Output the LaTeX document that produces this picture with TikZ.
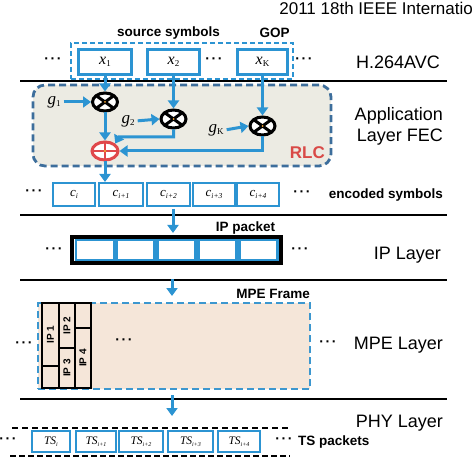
\documentclass[tikz,border=0pt]{standalone}
\usepackage{fontspec}
\setmainfont{Liberation Sans}
\newfontfamily\serf{Liberation Serif}
\usetikzlibrary{arrows.meta,shapes.geometric}
\definecolor{bl}{HTML}{2C94D2}
\definecolor{fecb}{HTML}{3D6E9C}
\definecolor{fecf}{HTML}{ECEBE3}
\definecolor{mpef}{HTML}{F5E6D9}
\definecolor{mpeb}{HTML}{3C97CF}
\definecolor{rd}{HTML}{E0484B}
\definecolor{rlc}{HTML}{D94A47}
\definecolor{dotor}{HTML}{F0A030}
\newcommand\sym[4]{{\serf\fontsize{#3}{#3}\selectfont\itshape #1\raisebox{-0.35ex}{\fontsize{#4}{#4}\selectfont #2}}}
\newcommand\dts{·\kern1.6pt·\kern1.6pt·}
\begin{document}
\begin{tikzpicture}[x=1pt,y=-1pt,
  sbox/.style={draw=bl, line width=2.8pt, fill=white, inner sep=0pt},
  arr/.style={draw=bl, line width=3pt, -{Triangle[length=8pt,width=11pt]}},
  big/.style={font=\fontsize{18}{21}\selectfont, inner sep=0pt},
  lab/.style={font=\bfseries\fontsize{13.5}{15}\selectfont, inner sep=0pt},
  dotsn/.style={font=\bfseries\fontsize{14}{14}\selectfont, inner sep=0pt},
  layer/.style={black, line width=2.2pt},
  ipf/.style={draw=black, line width=2pt, inner sep=0pt, font=\bfseries\fontsize{10}{10}\selectfont},
  mult/.style={ellipse, draw=black, line width=3pt, fill=white, minimum width=25pt, minimum height=18pt, inner sep=0pt,
    path picture={\draw[black,line width=3pt] (path picture bounding box.north west) -- (path picture bounding box.south east) (path picture bounding box.north east) -- (path picture bounding box.south west);
      \fill[dotor] (path picture bounding box.center) circle (1pt);}},
  adder/.style={ellipse, draw=rd, line width=3pt, fill=white, minimum width=26pt, minimum height=18pt, inner sep=0pt,
    path picture={\draw[rd,line width=2.2pt] (path picture bounding box.north) -- (path picture bounding box.south) (path picture bounding box.west) -- (path picture bounding box.east);
      \fill[dotor] (path picture bounding box.center) circle (1.3pt);}}
]
\useasboundingbox (0,0) rectangle (474,457);
\node[font=\fontsize{17}{17}\selectfont, inner sep=0pt, anchor=base east] (hdr) at (473,15) {2011 18th IEEE Internatio};

% ---------- H.264AVC ----------
\node[lab] (srcl) at (168.5,33) {source symbols};
\node[lab] (gopl) at (274.5,33) {GOP};
\node[draw=bl, line width=1.6pt, dash pattern=on 5pt off 3pt, minimum width=222pt, minimum height=36pt, inner sep=0pt] (gop) at (182,61) {};
\node[sbox, minimum width=53pt, minimum height=25pt] (x1) at (105,62) {\sym{x}{\upshape 1}{16}{9}};
\node[sbox, minimum width=52pt, minimum height=25pt] (x2) at (173.5,62) {\sym{x}{\upshape 2}{16}{9}};
\node[sbox, minimum width=50pt, minimum height=25pt] (xK) at (262.5,62) {\sym{x}{\upshape K}{16}{9}};
\node[dotsn] (d1) at (53,61) {\dts};
\node[dotsn] (d2) at (214,61) {\dts};
\node[dotsn] (d3) at (304,61) {\dts};
\node[big, anchor=east] (h264) at (440,62) {H.264AVC};
\draw[layer] (20,81) -- (447,81);

% ---------- Application layer FEC ----------
\node[draw=fecb, fill=fecf, line width=2.8pt, dash pattern=on 7pt off 4pt, rounded corners=12pt, minimum width=298pt, minimum height=81pt, inner sep=0pt] (fec) at (182,125.5) {};
\node[big, anchor=east, align=right] (fecl) at (443,126.5) {Application\\Layer FEC};
\node[font=\bfseries\fontsize{17}{17}\selectfont, text=rlc, inner sep=0pt, anchor=east] (rlcl) at (325,153) {RLC};
\node[mult] (m1) at (105,102) {};
\node[mult] (m2) at (173.5,119) {};
\node[mult] (mK) at (262.5,126) {};
\node[adder] (add) at (105,151) {};
\node[inner sep=1pt] (g1) at (54,102) {\sym{g}{\upshape 1}{17}{9}};
\node[inner sep=1pt] (g2) at (128,121) {\sym{g}{\upshape 2}{17}{9}};
\node[inner sep=1pt] (gK) at (216,130) {\sym{g}{\upshape K}{17}{9}};
\draw[arr] (x1.south) -- (m1.north);
\draw[arr] (x2.south) -- (m2.north);
\draw[arr] (xK.south) -- (mK.north);
\draw[arr, shorten <=2pt] (g1.east) -- (m1.west);
\draw[arr, shorten <=2pt] (g2.east) -- (m2.west);
\draw[arr, shorten <=2pt] (gK.east) -- (mK.west);
\draw[arr] (m1.south) -- (add.north);
\coordinate (c2) at (119,137);
\draw[arr] (m2.south) |- (c2) -- (add.north east);
\draw[arr] (mK.south) |- (add.east);
\coordinate (encin) at (105,182);
\draw[arr] (add.south) -- (encin);

% ---------- encoded symbols ----------
\node[sbox, line width=2.4pt, minimum width=42pt, minimum height=23pt] (c1) at (74,194.5) {\sym{c}{i}{13}{7.5}};
\node[sbox, line width=2.4pt, minimum width=44pt, minimum height=23pt] (c2b) at (121,194.5) {\sym{c}{i+1}{13}{7.5}};
\node[sbox, line width=2.4pt, minimum width=43pt, minimum height=23pt] (c3) at (168.5,194.5) {\sym{c}{i+2}{13}{7.5}};
\node[sbox, line width=2.4pt, minimum width=42pt, minimum height=23pt] (c4) at (214,194.5) {\sym{c}{i+3}{13}{7.5}};
\node[sbox, line width=2.4pt, minimum width=42pt, minimum height=23pt] (c5) at (258,194.5) {\sym{c}{i+4}{13}{7.5}};
\node[dotsn] (d4) at (34,193) {\dts};
\node[dotsn] (d5) at (302,194) {\dts};
\node[lab, anchor=east] (encl) at (443,195) {encoded symbols};
\draw[layer] (20,215) -- (447,215);

% ---------- IP layer ----------
\coordinate (a2s) at (173,209);
\coordinate (a2e) at (173,233);
\draw[arr] (a2s) -- (a2e);
\node[lab] (ipl) at (245.5,228) {IP packet};
\node[draw=black, line width=3.2pt, minimum width=209pt, minimum height=26pt, inner sep=0pt] (ip) at (176.5,250) {};
\foreach \i in {0,...,4}{
  \node[sbox, minimum width=38pt, minimum height=20pt] (ipc\i) at ({94.9+40.8*\i},250) {};
}
\node[dotsn] (d6) at (54,251) {\dts};
\node[dotsn] (d7) at (300,251) {\dts};
\node[big, anchor=east] (ipll) at (441,255) {IP Layer};
\draw[layer] (20,280) -- (447,280);

% ---------- MPE layer ----------
\coordinate (a3s) at (172,279);
\coordinate (a3e) at (172,296);
\draw[arr] (a3s) -- (a3e);
\node[lab, anchor=east] (mpel) at (310,294) {MPE Frame};
\node[draw=mpeb, fill=mpef, line width=2.2pt, dash pattern=on 7pt off 4pt, minimum width=272pt, minimum height=86pt, inner sep=0pt] (mpe) at (174,346) {};
\node[ipf, rotate=90, minimum width=63pt, minimum height=17pt] (ip1) at (50.5,334.5) {IP 1};
\node[ipf, rotate=90, minimum width=22pt, minimum height=17pt] (ipe1) at (50.5,377) {};
\node[ipf, rotate=90, minimum width=45pt, minimum height=16pt] (ip2) at (67,325.5) {IP 2};
\node[ipf, rotate=90, minimum width=40pt, minimum height=16pt] (ip3) at (67,368) {IP 3};
\node[ipf, rotate=90, minimum width=25pt, minimum height=16pt] (ipe3) at (83,315.5) {};
\node[ipf, rotate=90, minimum width=60pt, minimum height=16pt] (ip4) at (83,358) {IP 4};
\node[dotsn] (d8) at (24,345) {\dts};
\node[dotsn] (d9) at (124,342) {\dts};
\node[dotsn] (d10) at (328,344) {\dts};
\node[big, anchor=east] (mpell) at (443,345) {MPE Layer};
\draw[layer] (20,399) -- (447,399);

% ---------- PHY layer ----------
\coordinate (a4s) at (172,395);
\coordinate (a4e) at (172,416);
\draw[arr] (a4s) -- (a4e);
\node[big, anchor=east] (phyl) at (443,423) {PHY Layer};
\draw[black, line width=1.4pt, dash pattern=on 6pt off 4pt] (12,428) -- (288,428);
\draw[black, line width=3pt, dash pattern=on 6pt off 3pt] (10,456) -- (290,456);
\node[sbox, line width=2.6pt, minimum width=38pt, minimum height=21pt] (t1) at (51,441.5) {\sym{TS}{i}{11.5}{6}};
\node[sbox, line width=2.6pt, minimum width=40pt, minimum height=21pt] (t2) at (96,441.5) {\sym{TS}{i+1}{11.5}{6}};
\node[sbox, line width=2.6pt, minimum width=44pt, minimum height=21pt] (t3) at (141,441.5) {\sym{TS}{i+2}{11.5}{6}};
\node[sbox, line width=2.6pt, minimum width=45pt, minimum height=21pt] (t4) at (190.5,441.5) {\sym{TS}{i+3}{11.5}{6}};
\node[sbox, line width=2.6pt, minimum width=42pt, minimum height=21pt] (t5) at (239,441.5) {\sym{TS}{i+4}{11.5}{6}};
\node[dotsn] (d11) at (8,441) {\dts};
\node[dotsn] (d12) at (284,441) {\dts};
\node[lab, anchor=west] (tsl) at (298,442) {TS packets};
\end{tikzpicture}
\end{document}
